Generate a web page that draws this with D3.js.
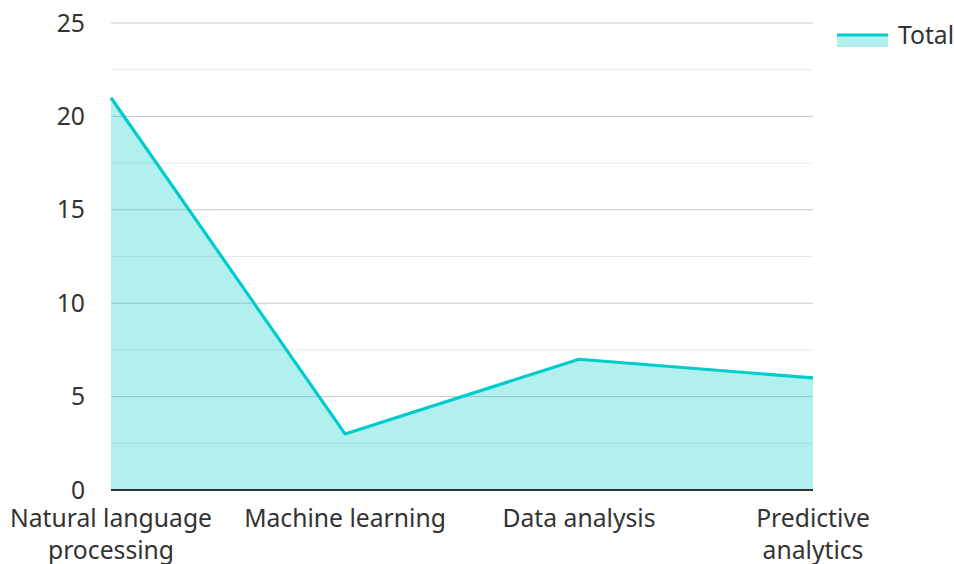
<!DOCTYPE html>
<html>
<head>
<meta charset="utf-8">
<script src="https://cdn.jsdelivr.net/npm/d3@7"></script>
<style>
  body { margin: 0; background: #fff; }
  svg { font-family: "Noto Sans", "Open Sans", sans-serif; }
</style>
</head>
<body>
<div id="chart"></div>
<script>
var width = 954;
var height = 564;
var margin = { top: 23, right: 141, bottom: 74, left: 111 };
var fontSize = "24.7px";

var categories = [
  ["Natural language", "processing"],
  ["Machine learning"],
  ["Data analysis"],
  ["Predictive", "analytics"]
];
var totals = [21, 3, 7, 6];
var yTicks = [0, 5, 10, 15, 20, 25];
var yMinor = [2.5, 7.5, 12.5, 17.5, 22.5];
var seriesName = "Total";

var data = categories.map(function(c, i) {
  return { label: c, key: c.join(" "), value: totals[i] };
});

var svg = d3.select("#chart").append("svg")
  .attr("width", width)
  .attr("height", height);

var x = d3.scalePoint()
  .domain(data.map(d => d.key))
  .range([margin.left, width - margin.right])
  .padding(0);

var y = d3.scaleLinear()
  .domain([0, 25])
  .range([height - margin.bottom, margin.top]);

// grid lines
svg.append("g")
  .selectAll("line")
  .data(yMinor)
  .join("line")
    .attr("x1", margin.left)
    .attr("x2", width - margin.right)
    .attr("y1", d => y(d))
    .attr("y2", d => y(d))
    .attr("stroke", "#e8e8e8")
    .attr("stroke-width", 1);

svg.append("g")
  .selectAll("line")
  .data(yTicks.filter(d => d > 0))
  .join("line")
    .attr("x1", margin.left)
    .attr("x2", width - margin.right)
    .attr("y1", d => y(d))
    .attr("y2", d => y(d))
    .attr("stroke", "#c8c8c8")
    .attr("stroke-width", 1);

// area + line
var area = d3.area()
  .x(d => x(d.key))
  .y0(y(0))
  .y1(d => y(d.value));

var line = d3.line()
  .x(d => x(d.key))
  .y(d => y(d.value));

svg.append("path")
  .datum(data)
  .attr("d", area)
  .attr("fill", "rgba(0,204,204,0.3)");

svg.append("path")
  .datum(data)
  .attr("d", line)
  .attr("fill", "none")
  .attr("stroke", "#00cccc")
  .attr("stroke-width", 3.2)
  .attr("stroke-linejoin", "round");

// x axis line
svg.append("line")
  .attr("x1", margin.left)
  .attr("x2", width - margin.right)
  .attr("y1", y(0))
  .attr("y2", y(0))
  .attr("stroke", "#333")
  .attr("stroke-width", 2);

// y labels
svg.append("g")
  .selectAll("text")
  .data(yTicks)
  .join("text")
    .attr("x", 85)
    .attr("y", d => y(d))
    .attr("dy", "0.35em")
    .attr("text-anchor", "end")
    .attr("fill", "#333")
    .style("font-size", fontSize)
    .text(d => d);

// x labels
var xl = svg.append("g")
  .selectAll("text")
  .data(data)
  .join("text")
    .attr("text-anchor", "middle")
    .attr("fill", "#333")
    .style("font-size", fontSize);

xl.selectAll("tspan")
  .data(d => d.label.map(t => ({ t: t, key: d.key })))
  .join("tspan")
    .attr("x", d => x(d.key))
    .attr("y", (d, i) => 527 + i * 32)
    .text(d => d.t);

// legend
var lg = svg.append("g").attr("transform", "translate(837,35)");
lg.append("rect")
  .attr("x", 0).attr("y", 0)
  .attr("width", 51).attr("height", 12)
  .attr("fill", "rgba(0,204,204,0.3)");
lg.append("line")
  .attr("x1", 0).attr("x2", 51)
  .attr("y1", 0).attr("y2", 0)
  .attr("stroke", "#00cccc")
  .attr("stroke-width", 3);
lg.append("text")
  .attr("x", 61).attr("y", 0)
  .attr("dy", "0.35em")
  .attr("fill", "#333")
  .style("font-size", fontSize)
  .text(seriesName);
</script>
</body>
</html>
